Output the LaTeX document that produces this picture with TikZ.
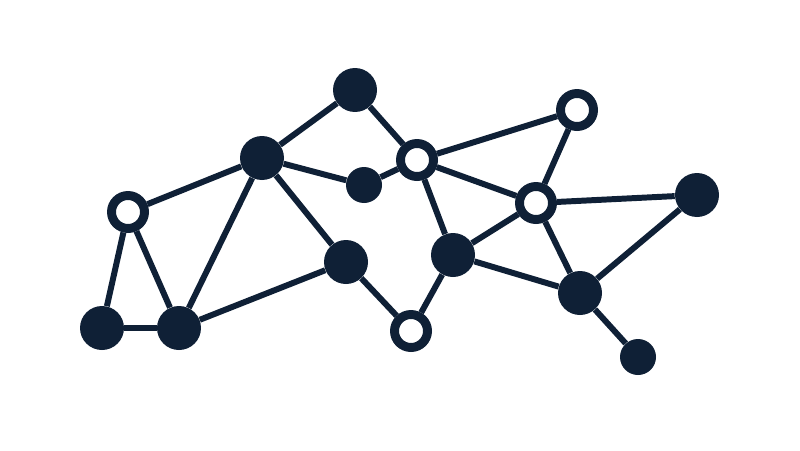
\documentclass[tikz,border=0pt]{standalone}
\usepackage{tikz}

\definecolor{netblue}{RGB}{15,32,54}

\begin{document}
\begin{tikzpicture}[x=0.02cm,y=-0.02cm]
        \tikzset{
           full/.style={circle, fill=netblue, inner sep=0pt, minimum size=0.88cm},
           small/.style={full, minimum size=0.72cm},
           ring/.style={circle, draw=netblue, fill=white, line width=5.1pt, inner sep=0pt, minimum size=0.66cm},
           link/.style={draw=netblue, line width=3.4pt}
        }
        \useasboundingbox (0,0) rectangle (800,450);

        % Nodes
        \node[full]  (A) at (102,328) {};
        \node[full]  (B) at (179,328) {};
        \node[ring]  (C) at (128,212) {};
        \node[full]  (D) at (262,158) {};
        \node[full]  (E) at (355,90) {};
        \node[small] (F) at (364,185) {};
        \node[ring]  (G) at (417,160) {};
        \node[full]  (K) at (346,262) {};
        \node[ring]  (M) at (411,331) {};
        \node[ring]  (H) at (577,110) {};
        \node[ring]  (I) at (536,203) {};
        \node[full]  (J) at (697,195) {};
        \node[full]  (L) at (453,255) {};
        \node[full]  (N) at (580,293) {};
        \node[small] (O) at (638,357) {};

        % Links
        \foreach \a/\b in {A/B, A/C, C/B, C/D, D/B, D/E, D/F, D/K, E/G, F/G,
                           G/H, G/I, H/I, G/L, I/J, I/L, I/N, J/N, N/O,
                           L/N, L/M, K/M, K/B}
          \draw[link] (\a) -- (\b);
\end{tikzpicture}
\end{document}
